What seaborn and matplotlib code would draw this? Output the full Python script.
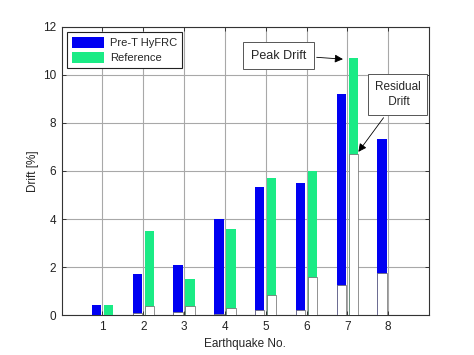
import numpy as np
import pandas as pd
import matplotlib
matplotlib.use('Agg')
import matplotlib.pyplot as plt
import seaborn as sns
from matplotlib.patches import Patch

# 지진 번호별 최대/잔류 변위 (%)
quake_no = [1, 2, 3, 4, 5, 6, 7, 8]
peak_pret = [0.42, 1.72, 2.10, 3.99, 5.32, 5.50, 9.21, 7.33]
peak_ref = [0.42, 3.50, 1.51, 3.60, 5.71, 5.99, 10.68, 0.0]
resid_pret = [0.02, 0.08, 0.12, 0.05, 0.22, 0.22, 1.26, 1.75]
resid_ref = [0.02, 0.39, 0.39, 0.30, 0.83, 1.58, 6.69, 0.0]
series = ['Pre-T HyFRC', 'Reference']
colors = {'Pre-T HyFRC': '#0000f2', 'Reference': '#1aeb85'}

df = pd.DataFrame({
    'quake': quake_no * 2,
    'series': [series[0]] * 8 + [series[1]] * 8,
    'peak': peak_pret + peak_ref,
    'resid': resid_pret + resid_ref,
})

sns.set_style('ticks')
plt.rcParams['font.family'] = ['Liberation Sans', 'DejaVu Sans']

fig = plt.figure(figsize=(4.74, 3.55), dpi=100)
ax = fig.add_axes([0.130, 0.112, 0.775, 0.813])

# 최대 변위 (색 막대)
sns.barplot(data=df, x='quake', y='peak', hue='series', hue_order=series,
            palette=colors, saturation=1, native_scale=True, width=0.59,
            gap=0.22, linewidth=0, errorbar=None, legend=False, ax=ax,
            zorder=3)
# 잔류 변위 (흰 막대)
sns.barplot(data=df, x='quake', y='resid', hue='series', hue_order=series,
            palette={s: 'white' for s in series}, saturation=1,
            native_scale=True, width=0.59, gap=0.22, edgecolor='#666666',
            linewidth=0.5, errorbar=None, legend=False, ax=ax, zorder=4)

ax.set_xlim(0, 9)
ax.set_ylim(0, 12)
ax.set_xticks(quake_no)
ax.set_xticklabels([str(q) for q in quake_no])
ax.set_yticks(np.arange(0, 13, 2))
ax.grid(True, color='#a8a8a8', lw=0.8, zorder=0)
ax.set_axisbelow(True)
ax.tick_params(direction='in', top=True, right=True, length=3, width=0.6,
               labelsize=8.5, pad=4, colors='#222222')
for s in ax.spines.values():
    s.set_visible(True)
    s.set_color('#333333')
    s.set_linewidth(0.8)
ax.set_xlabel('Earthquake No.', fontsize=8.5, labelpad=4)
ax.set_ylabel('Drift [%]', fontsize=8.5, labelpad=3)

handles = [Patch(facecolor=colors[s], edgecolor='none') for s in series]
leg = ax.legend(handles, series, loc='upper left', bbox_to_anchor=(0.015, 0.983),
                borderaxespad=0, fancybox=False, framealpha=1,
                edgecolor='#222222', fontsize=8, handlelength=2.9,
                handleheight=1.2, handletextpad=0.5, borderpad=0.45,
                labelspacing=0.35)
leg.get_frame().set_linewidth(0.8)
leg.set_zorder(6)

bbox = dict(boxstyle='square,pad=0.6', fc='white', ec='#555555', lw=0.7)
ax.annotate('Peak Drift', xy=(6.96, 10.64), xytext=(5.31, 10.78),
            ha='center', va='center', fontsize=9, bbox=bbox, zorder=7,
            arrowprops=dict(arrowstyle='-|>', color='k', lw=0.6,
                            mutation_scale=12, relpos=(1, 0.45)))
ax.annotate('Residual\n Drift', xy=(7.23, 6.7), xytext=(8.23, 9.17),
            ha='center', va='center', fontsize=8.5, bbox=bbox, zorder=7,
            linespacing=1.3,
            arrowprops=dict(arrowstyle='-|>', color='k', lw=0.6,
                            mutation_scale=12, relpos=(0.35, 0)))

fig.savefig('out.png', dpi=100)
